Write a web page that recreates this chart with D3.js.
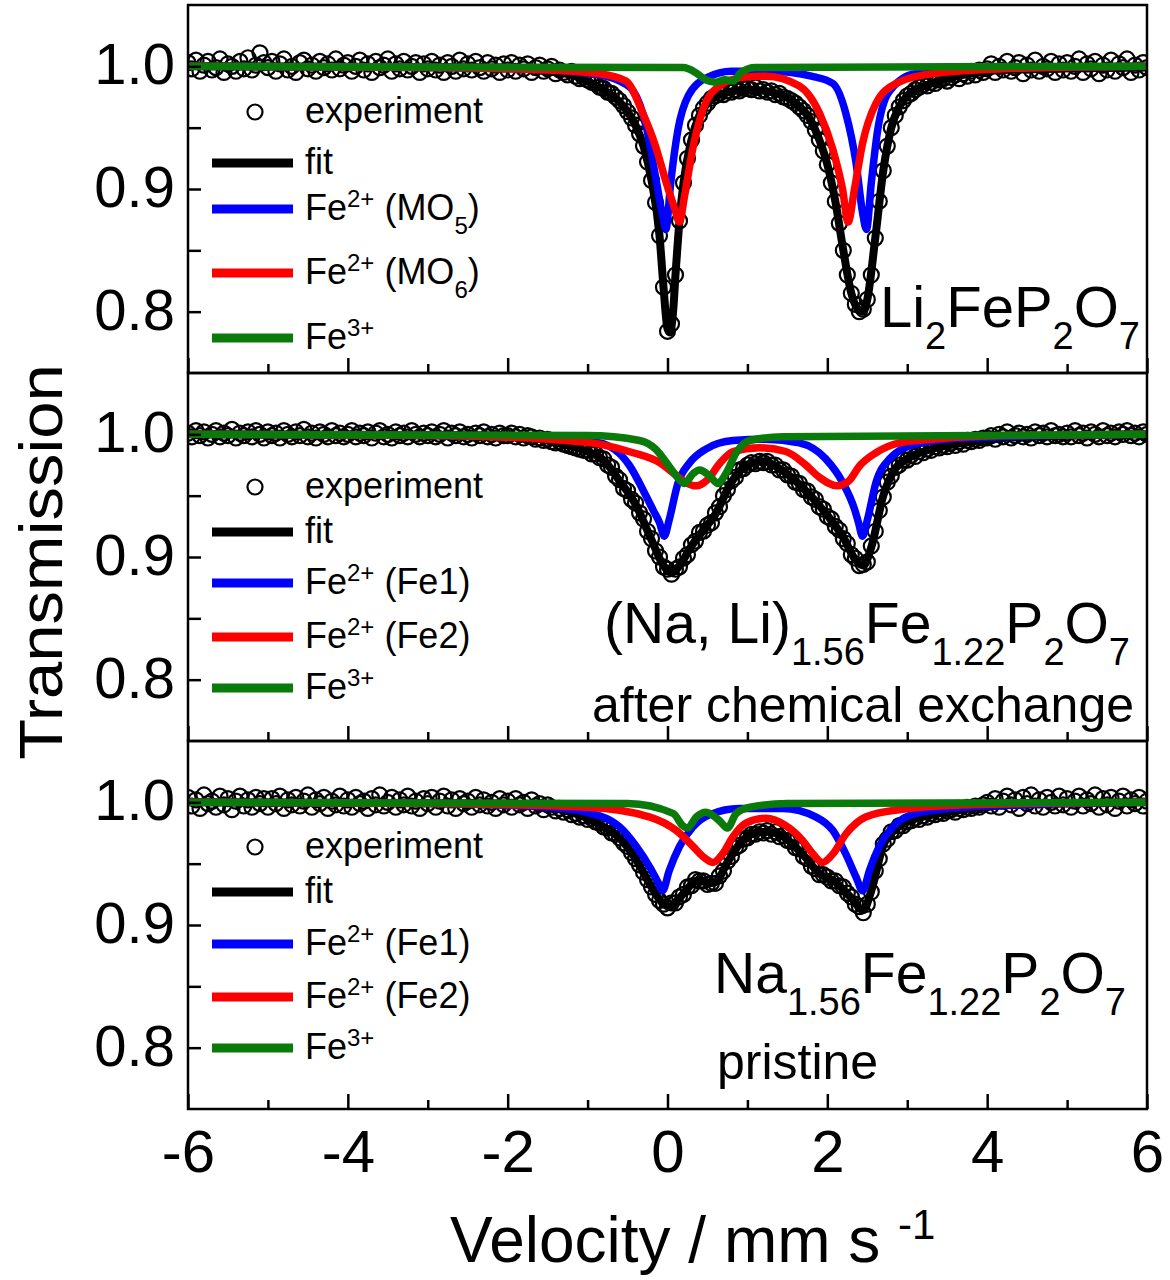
<!DOCTYPE html>
<meta charset="utf-8">
<style>
body { margin: 0; background: #fff; }
svg { display: block; font-family: "Liberation Sans", Arial, sans-serif; }
</style>
<svg width="1170" height="1280"></svg>
<script src="https://cdn.jsdelivr.net/npm/d3@7"></script>
<script>

// measured spectra: one value per channel, -6 ... 6 mm/s, 0.05 mm/s apart
var expStart = -6, expStep = 0.05;

var expLi = [
  1.003, 0.998, 1.005, 0.996, 1.001, 1.004, 0.997, 0.999, 1.006, 0.995, 1.002, 1.000, 0.996, 1.004, 0.998, 1.007, 0.997, 1.001, 1.011, 1.003,
  0.999, 1.004, 0.996, 1.002, 1.006, 0.997, 1.000, 0.995, 1.003, 1.005, 0.998, 1.001, 0.996, 1.004, 0.999, 1.002, 0.997, 1.006, 0.998, 1.001,
  1.003, 0.996, 1.000, 1.005, 0.997, 1.002, 0.995, 1.004, 0.999, 1.001, 1.006, 0.996, 1.002, 0.998, 1.004, 0.997, 1.000, 1.003, 0.995, 1.002,
  0.998, 1.004, 0.997, 1.001, 0.995, 1.003, 1.000, 0.996, 1.005, 0.998, 1.002, 0.997, 1.004, 0.999, 0.996, 1.003, 0.998, 1.001, 0.995, 1.002,
  0.997, 1.003, 0.996, 1.001, 0.998, 1.002, 0.995, 0.999, 1.001, 0.996, 0.998, 1.000, 0.994, 0.997, 0.995, 0.993, 0.996, 0.992, 0.990, 0.991,
  0.989, 0.987, 0.986, 0.983, 0.982, 0.979, 0.978, 0.975, 0.972, 0.968, 0.963, 0.958, 0.952, 0.945, 0.935, 0.922, 0.907, 0.889, 0.862, 0.820,
  0.784, 0.790, 0.830, 0.874, 0.905, 0.925, 0.940, 0.952, 0.960, 0.966, 0.970, 0.974, 0.976, 0.978, 0.977, 0.980, 0.979, 0.981, 0.980, 0.982,
  0.982, 0.981, 0.983, 0.980, 0.981, 0.979, 0.980, 0.977, 0.978, 0.975, 0.974, 0.972, 0.970, 0.967, 0.964, 0.960, 0.955, 0.948, 0.940, 0.931,
  0.920, 0.905, 0.890, 0.872, 0.850, 0.830, 0.815, 0.806, 0.800, 0.802, 0.810, 0.830, 0.860, 0.890, 0.915, 0.935, 0.950, 0.960, 0.967, 0.972,
  0.976, 0.978, 0.981, 0.983, 0.985, 0.984, 0.987, 0.986, 0.989, 0.990, 0.988, 0.991, 0.993, 0.990, 0.994, 0.992, 0.996, 0.993, 0.997, 0.995,
  0.998, 1.002, 0.995, 1.000, 0.997, 1.004, 0.996, 0.999, 1.003, 0.994, 1.001, 0.997, 1.005, 0.996, 1.000, 0.998, 1.004, 0.995, 1.002, 0.997,
  1.003, 0.996, 1.000, 1.006, 0.995, 1.002, 0.998, 1.004, 0.994, 1.001, 0.997, 1.005, 0.996, 1.002, 0.999, 1.006, 0.995, 1.001, 0.997, 1.003,
  0.999
];

var expExch = [
  1.001, 0.998, 1.003, 0.999, 1.002, 0.997, 1.000, 1.003, 0.998, 1.001, 0.999, 1.004, 0.997, 1.001, 0.999, 1.002, 0.998, 1.003, 1.000, 0.997,
  1.002, 0.999, 1.001, 0.997, 1.003, 1.000, 0.998, 1.002, 0.999, 1.004, 0.998, 1.001, 0.997, 1.002, 1.000, 0.998, 1.003, 0.999, 1.001, 0.998,
  1.000, 1.003, 0.998, 1.001, 0.999, 1.002, 0.997, 1.001, 1.003, 0.998, 1.000, 0.997, 1.002, 0.999, 1.001, 0.998, 1.003, 1.000, 0.998, 1.001,
  0.999, 1.002, 0.998, 1.000, 1.003, 0.997, 1.001, 0.999, 1.002, 0.998, 1.000, 0.997, 1.001, 0.999, 1.002, 0.998, 1.000, 0.997, 1.001, 0.999,
  0.999, 1.001, 0.998, 1.000, 0.997, 0.999, 0.998, 0.996, 0.997, 0.995, 0.996, 0.994, 0.993, 0.994, 0.992, 0.991, 0.990, 0.989, 0.988, 0.987,
  0.987, 0.984, 0.984, 0.981, 0.980, 0.975, 0.973, 0.966, 0.963, 0.956, 0.954, 0.947, 0.944, 0.936, 0.931, 0.921, 0.915, 0.905, 0.900, 0.892,
  0.890, 0.886, 0.890, 0.892, 0.899, 0.902, 0.910, 0.913, 0.920, 0.921, 0.926, 0.928, 0.936, 0.941, 0.950, 0.955, 0.962, 0.965, 0.971, 0.972,
  0.975, 0.977, 0.976, 0.978, 0.977, 0.978, 0.975, 0.975, 0.971, 0.971, 0.967, 0.966, 0.961, 0.960, 0.955, 0.954, 0.949, 0.947, 0.941, 0.939,
  0.933, 0.931, 0.925, 0.922, 0.915, 0.911, 0.902, 0.899, 0.893, 0.894, 0.896, 0.909, 0.921, 0.938, 0.949, 0.961, 0.966, 0.973, 0.975, 0.979,
  0.979, 0.983, 0.982, 0.986, 0.985, 0.988, 0.987, 0.990, 0.989, 0.991, 0.990, 0.993, 0.991, 0.994, 0.992, 0.995, 0.994, 0.996, 0.995, 0.997,
  0.997, 0.999, 0.996, 1.000, 0.998, 1.002, 0.997, 0.999, 1.001, 0.998, 1.000, 0.997, 1.002, 0.999, 1.001, 0.998, 1.003, 0.999, 1.000, 0.998,
  1.001, 0.998, 1.003, 0.999, 1.001, 0.997, 1.002, 1.000, 0.998, 1.003, 0.999, 1.001, 0.998, 1.002, 1.000, 1.003, 0.999, 1.001, 0.998, 1.002,
  1.000
];

var expPristine = [
  1.004, 0.997, 1.002, 0.995, 1.006, 0.999, 1.001, 0.996, 1.005, 0.998, 1.003, 0.994, 1.001, 1.005, 0.997, 1.002, 0.996, 1.004, 0.999, 1.003,
  0.996, 1.003, 0.999, 1.005, 0.995, 1.002, 0.998, 1.004, 0.997, 1.001, 1.006, 0.996, 1.002, 0.999, 1.004, 0.995, 1.001, 0.998, 1.005, 0.997,
  1.002, 0.996, 1.004, 0.999, 1.001, 0.995, 1.003, 0.998, 1.006, 0.997, 1.000, 1.004, 0.996, 1.002, 0.998, 1.005, 0.997, 1.001, 0.995, 1.003,
  0.999, 1.004, 0.996, 1.001, 1.005, 0.997, 1.002, 0.995, 1.003, 0.999, 1.001, 0.996, 1.004, 0.998, 1.002, 0.997, 1.000, 0.995, 1.003, 0.998,
  1.001, 0.996, 1.003, 0.998, 1.000, 0.995, 1.002, 0.997, 0.999, 0.994, 0.998, 0.996, 0.993, 0.995, 0.992, 0.994, 0.990, 0.991, 0.988, 0.989,
  0.986, 0.987, 0.984, 0.983, 0.980, 0.979, 0.975, 0.974, 0.971, 0.967, 0.964, 0.959, 0.954, 0.949, 0.943, 0.937, 0.931, 0.925, 0.920, 0.917,
  0.914, 0.918, 0.918, 0.923, 0.925, 0.931, 0.932, 0.937, 0.936, 0.936, 0.933, 0.934, 0.934, 0.940, 0.944, 0.952, 0.956, 0.963, 0.965, 0.970,
  0.971, 0.974, 0.974, 0.976, 0.975, 0.977, 0.974, 0.976, 0.972, 0.973, 0.969, 0.968, 0.963, 0.962, 0.956, 0.954, 0.948, 0.946, 0.941, 0.941,
  0.939, 0.936, 0.936, 0.932, 0.931, 0.926, 0.923, 0.917, 0.915, 0.910, 0.917, 0.927, 0.944, 0.954, 0.966, 0.970, 0.976, 0.977, 0.981, 0.981,
  0.984, 0.985, 0.987, 0.986, 0.989, 0.988, 0.991, 0.990, 0.992, 0.991, 0.993, 0.994, 0.992, 0.995, 0.994, 0.996, 0.995, 0.997, 0.996, 0.998,
  1.000, 0.997, 1.003, 0.996, 1.001, 1.005, 0.998, 1.002, 0.995, 1.004, 0.999, 1.006, 0.997, 1.002, 0.996, 1.004, 1.000, 0.997, 1.005, 0.998,
  1.003, 0.996, 1.001, 1.005, 0.997, 1.002, 0.999, 1.006, 0.996, 1.003, 0.998, 1.004, 0.995, 1.001, 1.005, 0.997, 1.002, 0.999, 1.004, 0.997,
  1.001
];

// fitted envelope and sub-spectra, [velocity, transmission]
var fitLi = [[-6,1.0],[-2,0.999],[-1.5,0.996],[-1.2,0.993],[-1.0,0.988],[-0.8,0.981],[-0.6,0.971],[-0.5,0.963],[-0.4,0.952],[-0.3,0.935],[-0.2,0.907],[-0.1,0.862],[-0.05,0.82],[0.0,0.786],[0.03,0.783],[0.07,0.80],[0.1,0.83],[0.15,0.874],[0.2,0.905],[0.3,0.94],[0.4,0.96],[0.5,0.97],[0.7,0.978],[1.0,0.981],[1.3,0.979],[1.6,0.970],[1.8,0.955],[1.9,0.94],[2.0,0.92],[2.1,0.89],[2.2,0.85],[2.3,0.815],[2.4,0.801],[2.45,0.80],[2.5,0.81],[2.6,0.86],[2.7,0.915],[2.8,0.95],[2.9,0.967],[3.0,0.976],[3.3,0.986],[3.7,0.993],[4.2,0.997],[6,0.999]];
var mo5Li = [[-6,1.0],[-3,0.999],[-1.5,0.997],[-0.85,0.993],[-0.6,0.988],[-0.43,0.98],[-0.27,0.952],[-0.15,0.91],[-0.06,0.878],[-0.02,0.867],[0.04,0.905],[0.13,0.948],[0.26,0.976],[0.5,0.991],[0.8,0.996],[1.3,0.996],[1.8,0.992],[2.07,0.986],[2.23,0.962],[2.36,0.921],[2.44,0.881],[2.49,0.867],[2.55,0.905],[2.63,0.948],[2.77,0.979],[3.1,0.994],[4,0.998],[6,1.0]];
var mo6Li = [[-6,1.0],[-3,0.999],[-1.5,0.997],[-0.85,0.994],[-0.52,0.988],[-0.31,0.962],[-0.15,0.935],[-0.02,0.906],[0.09,0.884],[0.15,0.873],[0.21,0.893],[0.32,0.934],[0.44,0.964],[0.65,0.984],[0.94,0.991],[1.23,0.992],[1.65,0.984],[1.9,0.962],[2.07,0.932],[2.19,0.9],[2.26,0.873],[2.34,0.9],[2.44,0.937],[2.61,0.97],[2.86,0.986],[3.32,0.994],[4.2,0.998],[6,1.0]];
var fe3Li = [[-6,1.0],[0.2,0.999],[0.35,0.995],[0.48,0.989],[0.6,0.987],[0.72,0.989],[0.82,0.988],[0.92,0.995],[1.1,0.999],[6,1.0]];

var fitExch = [[-6,1.0],[-2,0.999],[-1.5,0.995],[-1.2,0.99],[-1.0,0.986],[-0.8,0.979],[-0.6,0.962],[-0.4,0.943],[-0.2,0.914],[-0.05,0.893],[0.05,0.887],[0.15,0.893],[0.3,0.909],[0.45,0.922],[0.6,0.935],[0.8,0.961],[1.0,0.975],[1.2,0.978],[1.4,0.972],[1.7,0.956],[2.0,0.934],[2.2,0.916],[2.35,0.898],[2.45,0.893],[2.55,0.908],[2.7,0.95],[2.85,0.972],[3.0,0.98],[3.3,0.988],[3.7,0.993],[4.2,0.997],[6,1.0]];
var fe1Exch = [[-6,1.0],[-3,0.999],[-1.5,0.997],[-0.85,0.993],[-0.48,0.975],[-0.27,0.95],[-0.17,0.937],[-0.1,0.928],[-0.04,0.917],[0.02,0.93],[0.13,0.96],[0.28,0.977],[0.48,0.988],[0.82,0.995],[1.23,0.996],[1.65,0.993],[1.98,0.98],[2.19,0.961],[2.34,0.939],[2.39,0.928],[2.44,0.917],[2.5,0.93],[2.61,0.961],[2.78,0.98],[3.11,0.992],[3.74,0.997],[6,1.0]];
var fe2Exch = [[-6,1.0],[-3,0.999],[-1.5,0.996],[-0.85,0.992],[-0.43,0.985],[-0.1,0.977],[0.1,0.967],[0.22,0.961],[0.36,0.958],[0.5,0.963],[0.65,0.976],[0.82,0.986],[1.15,0.989],[1.48,0.986],[1.73,0.975],[1.9,0.965],[2.12,0.958],[2.27,0.962],[2.4,0.974],[2.61,0.985],[2.9,0.993],[3.32,0.996],[4.2,0.999],[6,1.0]];
var fe3Exch = [[-6,1.0],[-1.0,0.999],[-0.35,0.995],[-0.15,0.988],[0.02,0.974],[0.15,0.963],[0.21,0.96],[0.32,0.968],[0.4,0.971],[0.53,0.966],[0.63,0.96],[0.73,0.968],[0.86,0.985],[1.03,0.995],[1.45,0.998],[6,1.0]];

var fitPristine = [[-6,1.0],[-2,0.999],[-1.5,0.996],[-1.2,0.992],[-1.0,0.987],[-0.8,0.98],[-0.6,0.971],[-0.4,0.954],[-0.2,0.931],[-0.05,0.917],[0.02,0.915],[0.15,0.922],[0.3,0.933],[0.4,0.937],[0.5,0.934],[0.6,0.935],[0.75,0.951],[0.9,0.966],[1.1,0.975],[1.25,0.976],[1.45,0.972],[1.7,0.957],[1.9,0.942],[2.1,0.935],[2.3,0.922],[2.45,0.912],[2.55,0.928],[2.7,0.965],[2.85,0.978],[3.0,0.984],[3.4,0.991],[3.8,0.995],[4.3,0.998],[6,1.0]];
var fe1Pristine = [[-6,1.0],[-3,0.999],[-1.5,0.996],[-0.85,0.989],[-0.6,0.98],[-0.39,0.964],[-0.22,0.947],[-0.12,0.935],[-0.06,0.928],[0.02,0.944],[0.15,0.964],[0.32,0.98],[0.53,0.99],[0.9,0.995],[1.44,0.995],[1.86,0.988],[2.07,0.977],[2.23,0.958],[2.36,0.939],[2.44,0.928],[2.53,0.945],[2.65,0.964],[2.82,0.98],[3.11,0.991],[3.74,0.996],[6,1.0]];
var fe2Pristine = [[-6,1.0],[-3,0.999],[-1.0,0.996],[-0.22,0.988],[0.11,0.977],[0.32,0.964],[0.44,0.956],[0.57,0.951],[0.69,0.958],[0.82,0.972],[0.98,0.983],[1.23,0.987],[1.48,0.981],[1.69,0.969],[1.82,0.958],[1.94,0.951],[2.07,0.958],[2.23,0.974],[2.48,0.988],[2.9,0.994],[3.8,0.998],[6,1.0]];
var fe3Pristine = [[-6,1.0],[-0.5,0.999],[0.07,0.991],[0.19,0.981],[0.25,0.979],[0.36,0.988],[0.48,0.992],[0.65,0.985],[0.75,0.979],[0.86,0.991],[1.03,0.996],[1.5,0.999],[6,1.0]];

// labels
var legendLi = [
  [["experiment"]], [["fit"]],
  [["Fe"], ["2+", "sup"], [" (MO"], ["5", "sub"], [")"]],
  [["Fe"], ["2+", "sup"], [" (MO"], ["6", "sub"], [")"]],
  [["Fe"], ["3+", "sup"]]
];
var legendNa = [
  [["experiment"]], [["fit"]],
  [["Fe"], ["2+", "sup"], [" (Fe1)"]],
  [["Fe"], ["2+", "sup"], [" (Fe2)"]],
  [["Fe"], ["3+", "sup"]]
];
var formulaLi = [["Li"], ["2", "sub"], ["FeP"], ["2", "sub"], ["O"], ["7", "sub"]];
var formulaExch = [["(Na, Li)"], ["1.56", "sub"], ["Fe"], ["1.22", "sub"], ["P"], ["2", "sub"], ["O"], ["7", "sub"]];
var formulaPristine = [["Na"], ["1.56", "sub"], ["Fe"], ["1.22", "sub"], ["P"], ["2", "sub"], ["O"], ["7", "sub"]];
var noteExch = [["after chemical exchange"]];
var notePristine = [["pristine"]];

var xTicksMajor = [-6, -4, -2, 0, 2, 4, 6];
var xTicksMinor = [-5, -3, -1, 1, 3, 5];
var yTicks = [0.8, 0.85, 0.9, 0.95, 1.0];

// ---- layout ----
var X0 = 188, X1 = 1147, PH = 368;
var compColors = ["#0000ff", "#ff0000", "#0a7a0a"];

var panels = [
  { top: 5, exp: expLi, fit: fitLi, comps: [mo5Li, mo6Li, fe3Li], legend: legendLi,
    rows: [107, 158, 204, 268, 333],
    notes: [{ parts: formulaLi, x: 1140, y: 327, size: 58, anchor: "end" }] },
  { top: 373, exp: expExch, fit: fitExch, comps: [fe1Exch, fe2Exch, fe3Exch], legend: legendNa,
    rows: [114, 159, 210, 264, 315],
    notes: [{ parts: formulaExch, x: 1130, y: 643, size: 57, anchor: "end" },
            { parts: noteExch, x: 1134, y: 722, size: 50, anchor: "end" }] },
  { top: 741, exp: expPristine, fit: fitPristine, comps: [fe1Pristine, fe2Pristine, fe3Pristine], legend: legendNa,
    rows: [106, 151, 203, 256, 307],
    notes: [{ parts: formulaPristine, x: 1126, y: 993, size: 57, anchor: "end" },
            { parts: notePristine, x: 717, y: 1079, size: 50, anchor: "start" }] }
];

var svg = d3.select("svg");
var x = d3.scaleLinear().domain([-6, 6]).range([X0, X1]);

// text with sub/superscript pieces
function rich(g, px, py, parts, size, anchor) {
  var small = Math.round(size * 0.66), up = size * 0.36, down = size * 0.38;
  var t = g.append("text").attr("x", px).attr("y", py)
      .attr("font-size", size).attr("text-anchor", anchor || "start")
      .style("white-space", "pre");
  var shift = 0;
  parts.forEach(function(p) {
    var target = p[1] === "sup" ? -up : p[1] === "sub" ? down : 0;
    var s = t.append("tspan").attr("dy", target - shift).text(p[0]);
    if (p[1]) s.attr("font-size", small);
    shift = target;
  });
  return t;
}

panels.forEach(function(p, k) {
  var y = d3.scaleLinear().domain([0.75, 1.05]).range([p.top + PH, p.top]);
  var g = svg.append("g");

  svg.append("clipPath").attr("id", "clip" + k).append("rect")
      .attr("x", X0).attr("y", p.top).attr("width", X1 - X0).attr("height", PH);
  var plot = g.append("g").attr("clip-path", "url(#clip" + k + ")");

  var line = d3.line()
      .x(function(d) { return x(d[0]); })
      .y(function(d) { return y(d[1]); })
      .curve(d3.curveMonotoneX);

  plot.append("path").datum(p.fit).attr("d", line)
      .attr("fill", "none").attr("stroke", "#000").attr("stroke-width", 8);

  var pts = p.exp.map(function(t, i) { return [expStart + i * expStep, t]; });
  plot.selectAll("circle").data(pts).enter().append("circle")
      .attr("cx", function(d) { return x(d[0]); })
      .attr("cy", function(d) { return y(d[1]); })
      .attr("r", 7.5)
      .attr("fill", "none").attr("stroke", "#000").attr("stroke-width", 2.2);

  p.comps.forEach(function(c, i) {
    plot.append("path").datum(c).attr("d", line)
        .attr("fill", "none").attr("stroke", compColors[i]).attr("stroke-width", 7.5);
  });

  // left axis, ticks inward
  var ya = g.append("g").attr("transform", "translate(" + X0 + ",0)")
      .call(d3.axisLeft(y).tickValues(yTicks).tickSize(-13).tickPadding(13)
        .tickFormat(function(d) { return Math.round(d * 100) % 10 === 0 ? d3.format(".1f")(d) : ""; }));
  ya.select(".domain").remove();
  ya.selectAll("line").attr("stroke-width", 2.5);
  ya.selectAll("text").attr("font-size", 58).attr("font-family", null).attr("dy", "0.3em");

  // bottom axis, major and minor ticks inward
  var xb = g.append("g").attr("transform", "translate(0," + (p.top + PH) + ")");
  var xa = xb.append("g").call(d3.axisBottom(x).tickValues(xTicksMajor).tickSize(-15).tickPadding(20)
      .tickFormat(function(d) { return k === 2 ? String(d) : ""; }));
  xb.append("g").call(d3.axisBottom(x).tickValues(xTicksMinor).tickSize(-9).tickFormat(""));
  xb.selectAll(".domain").remove();
  xb.selectAll("line").attr("stroke-width", 2.5);
  xa.selectAll("text").attr("font-size", 60).attr("font-family", null);

  g.append("rect").attr("x", X0).attr("y", p.top).attr("width", X1 - X0).attr("height", PH)
      .attr("fill", "none").attr("stroke", "#000").attr("stroke-width", 2.5);

  // legend
  var lg = g.append("g");
  p.rows.forEach(function(ry, i) {
    var cy = p.top + ry;
    if (i === 0) {
      lg.append("circle").attr("cx", 255).attr("cy", cy).attr("r", 7.5)
          .attr("fill", "none").attr("stroke", "#000").attr("stroke-width", 2.2);
    } else {
      lg.append("line").attr("x1", 212).attr("x2", 293).attr("y1", cy).attr("y2", cy)
          .attr("stroke", i === 1 ? "#000" : compColors[i - 2]).attr("stroke-width", 9);
    }
    rich(lg, 305, cy + 11, p.legend[i], 36);
  });

  p.notes.forEach(function(n) { rich(g, n.x, n.y, n.parts, n.size, n.anchor); });
});

// axis titles
svg.append("text")
    .attr("transform", "translate(62,562) rotate(-90) scale(1.08,1)")
    .attr("text-anchor", "middle").attr("font-size", 62)
    .text("Transmission");

rich(svg, 450, 1262, [["Velocity / mm s "], ["-1", "sup"]], 64);

</script>
